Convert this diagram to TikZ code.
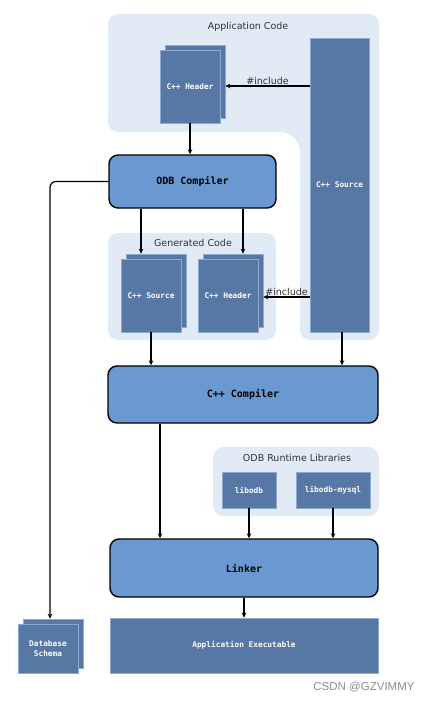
\documentclass[tikz,border=0pt]{standalone}
\usepackage{fontspec}
\setmainfont{DejaVu Sans}
\setmonofont{DejaVu Sans Mono}
\newfontfamily\wmfont{Liberation Sans}
\usetikzlibrary{arrows.meta}
\definecolor{boxfill}{HTML}{5778A5}
\definecolor{boxline}{HTML}{8EA9CF}
\definecolor{regionfill}{HTML}{E1EAF5}
\definecolor{compfill}{HTML}{6999D0}
\definecolor{labeltext}{HTML}{333333}
\tikzset{
  docbox/.style={draw=boxline, fill=boxfill, line width=0.6pt, inner sep=0pt,
    text=white, align=center, font=\ttfamily\bfseries\fontsize{7.8}{9.5}\selectfont},
  compbox/.style={draw=black, fill=compfill, line width=1.4pt, rounded corners=9pt,
    inner sep=0pt, font=\ttfamily\bfseries\fontsize{10}{12}\selectfont},
  region/.style={fill=regionfill, rounded corners=10pt},
  reglabel/.style={text=labeltext, font=\fontsize{9.5}{11}\selectfont, inner sep=1pt},
  arr/.style={draw=black, line width=1.2pt, -{Stealth[length=5pt,width=4.5pt]}}
}
\begin{document}
\begin{tikzpicture}[x=1pt,y=1pt]
\useasboundingbox (0,0) rectangle (431,-702);
% Application Code region
\fill[regionfill] (118,-14) -- (369,-14) arc[start angle=90,end angle=0,radius=10]
  -- (379,-330) arc[start angle=0,end angle=-90,radius=10]
  -- (310,-340) arc[start angle=270,end angle=180,radius=10]
  -- (300,-152) arc[start angle=0,end angle=90,radius=20]
  -- (118,-132) arc[start angle=270,end angle=180,radius=10]
  -- (108,-24) arc[start angle=180,end angle=90,radius=10] -- cycle;
\node[reglabel] (applabel) at (248,-27) {Application Code};
% Generated code region
\fill[region] (108,-233) rectangle (276,-340);
\node[reglabel] (genlabel) at (193,-243) {Generated Code};
% Runtime libraries region
\fill[region] (213,-447) rectangle (379,-516);
\node[reglabel] (liblabel) at (297,-458) {ODB Runtime Libraries};

% Application sources
\node[docbox, minimum width=59pt, minimum height=294pt] (appsrc) at (339.5,-185) {C++ Source};
\node[docbox, minimum width=60pt, minimum height=73pt] (apphdrback) at (195,-81.5) {};
\node[docbox, minimum width=60pt, minimum height=73pt] (apphdr) at (190,-86.5) {C++ Header};

% ODB compiler
\node[compbox, minimum width=167pt, minimum height=53pt] (odb) at (192.5,-181.5) {ODB Compiler};

% Generated files
\node[docbox, minimum width=60pt, minimum height=73pt] (gensrcback) at (156,-290.5) {};
\node[docbox, minimum width=60pt, minimum height=73pt] (gensrc) at (151,-295.5) {C++ Source};
\node[docbox, minimum width=60pt, minimum height=73pt] (genhdrback) at (233,-290.5) {};
\node[docbox, minimum width=60pt, minimum height=73pt] (genhdr) at (228,-295.5) {C++ Header};

% C++ compiler
\node[compbox, minimum width=270pt, minimum height=57pt] (cxx) at (243,-394.5) {C++ Compiler};

% Libraries
\node[docbox, minimum width=54pt, minimum height=36pt] (libodb) at (249,-490) {libodb};
\node[docbox, minimum width=74pt, minimum height=36pt] (libmysql) at (333,-490) {libodb-mysql};

% Linker
\node[compbox, minimum width=268pt, minimum height=58pt] (linker) at (244,-568) {Linker};

% Outputs
\node[docbox, minimum width=268pt, minimum height=55pt] (exe) at (244,-645.5) {Application Executable};
\node[docbox, minimum width=60pt, minimum height=49pt] (dbsback) at (53,-643.5) {};
\node[docbox, minimum width=60pt, minimum height=49pt] (dbs) at (48,-648.5) {Database\\Schema};

% Connectors
\draw[arr] (appsrc.west |- 0,-86) -- node[reglabel, above, pos=0.5] {\#include} (apphdrback.east |- 0,-86);
\draw[arr] (apphdr.south) -- (apphdr.south |- odb.north);
\draw[arr, rounded corners=6pt] (odb.west) -| ([xshift=-3pt]dbsback.north);
\draw[arr] ([xshift=-15pt]gensrcback.north |- odb.south) -- ([xshift=-15pt]gensrcback.north);
\draw[arr] ([xshift=10pt]genhdrback.north |- odb.south) -- ([xshift=10pt]genhdrback.north);
\draw[arr] (appsrc.west |- 0,-297) -- node[reglabel, above, pos=0.5] {\#include} (genhdrback.east |- 0,-297);
\draw[arr] (gensrc.south) -- (gensrc.south |- cxx.north);
\draw[arr] ([xshift=2.5pt]appsrc.south) -- ([xshift=2.5pt]appsrc.south |- cxx.north);
\draw[arr] ([xshift=-83pt]cxx.south) -- ([xshift=-83pt]cxx.south |- linker.north);
\draw[arr] (libodb.south) -- (libodb.south |- linker.north);
\draw[arr] (libmysql.south) -- (libmysql.south |- linker.north);
\draw[arr] (linker.south) -- (linker.south |- exe.north);

% Watermark
\node[text=black!45, font=\wmfont\fontsize{11.5}{13}\selectfont, inner sep=0pt] (wm) at (364,-687) {CSDN @GZVIMMY};
\end{tikzpicture}
\end{document}
